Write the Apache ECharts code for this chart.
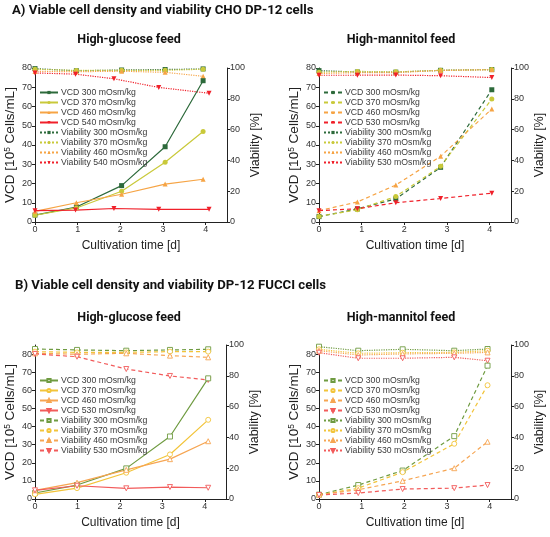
<!DOCTYPE html>
<html><head><meta charset="utf-8">
<script src="https://cdn.jsdelivr.net/npm/echarts@6/dist/echarts.min.js"></script>
<style>html,body{margin:0;padding:0;background:#fff}#c{width:550px;height:537px}</style>
</head><body><div id="c"></div>
<script>
// ---------- DATA ----------
const osmA_glc = ['300', '370', '460', '540'];
const osmA_man = ['300', '370', '460', '530'];
const osmB = ['300', '370', '460', '530'];

// A) CHO DP-12, high-glucose feed
const A_glc_days = [
  [0, 0.97, 2.03, 3.05, 3.94],
  [0, 0.97, 2.03, 3.05, 3.94],
  [0, 0.97, 2.03, 3.05, 3.94],
  [0, 0.95, 1.85, 2.9, 4.08]
];
const A_glc_vcd = [
  [3.6, 7.8, 18.9, 39.1, 73.4],
  [3.5, 7.3, 16.0, 31.0, 47.0],
  [5.5, 10.0, 14.4, 19.7, 22.2],
  [5.9, 6.2, 7.0, 6.6, 6.6]
];
const A_glc_via = [
  [99.6, 98.2, 98.7, 99.0, 99.4],
  [99.2, 98.4, 98.5, 98.5, 99.2],
  [97.8, 97.6, 97.9, 97.2, 94.6],
  [96.8, 96.0, 93.0, 87.4, 83.6]
];

// A) CHO DP-12, high-mannitol feed
const A_man_days = [
  [0, 0.9, 1.8, 2.85, 4.05],
  [0, 0.9, 1.8, 2.85, 4.05],
  [0, 0.9, 1.8, 2.85, 4.05],
  [0, 0.9, 1.8, 2.85, 4.05]
];
const A_man_vcd = [
  [2.8, 6.8, 12.0, 28.4, 68.7],
  [2.9, 6.4, 13.2, 28.9, 63.9],
  [5.9, 10.4, 19.2, 34.1, 58.7],
  [5.9, 6.9, 10.0, 12.2, 15.0]
];
const A_man_via = [
  [98.3, 97.4, 97.3, 98.5, 99.0],
  [97.3, 97.8, 97.5, 98.5, 99.0],
  [96.4, 97.0, 97.0, 98.4, 98.9],
  [95.3, 95.3, 95.4, 95.0, 93.8]
];

// B) DP-12 FUCCI, high-glucose feed
const B_glc_days = [
  [0, 0.99, 2.15, 3.18, 4.08],
  [0, 0.99, 2.15, 3.18, 4.08],
  [0, 0.99, 2.15, 3.18, 4.08],
  [0, 0.99, 2.15, 3.18, 4.08]
];
const B_glc_vcd = [
  [3.3, 7.7, 16.9, 34.5, 66.6],
  [2.6, 6.0, 14.5, 24.6, 43.7],
  [4.8, 9.0, 16.1, 22.0, 31.9],
  [4.8, 7.3, 5.9, 6.6, 6.2]
];
const B_glc_via = [
  [97.4, 96.8, 96.3, 96.8, 97.2],
  [95.7, 95.2, 95.2, 95.7, 95.7],
  [94.6, 94.0, 94.6, 93.1, 92.0],
  [94.2, 92.4, 84.4, 79.9, 77.3]
];

// B) DP-12 FUCCI, high-mannitol feed
const B_man_days = [
  [0, 0.92, 1.96, 3.17, 3.95],
  [0, 0.92, 1.96, 3.17, 3.95],
  [0, 0.92, 1.96, 3.17, 3.95],
  [0, 0.92, 1.96, 3.17, 3.95]
];
const B_man_vcd = [
  [2.4, 7.7, 15.7, 34.7, 73.6],
  [2.2, 6.0, 14.8, 30.5, 62.8],
  [2.4, 5.1, 10.0, 17.0, 31.6],
  [2.2, 3.3, 5.5, 6.0, 7.7]
];
const B_man_via = [
  [98.9, 96.3, 97.2, 96.3, 97.4],
  [97.2, 94.6, 95.0, 95.2, 96.3],
  [96.3, 93.5, 94.2, 94.6, 95.2],
  [95.0, 91.4, 91.4, 92.0, 89.8]
];

// ---------- STYLE ----------
const colA = ['#2d6a3b', '#c9c93a', '#f6a445', '#f0202a'];
const colB = ['#6f9b41', '#f2c43a', '#f6a552', '#f25b5b'];
const symbols = ['rect', 'circle', 'triangle', 'triangle'];
const rots = [0, 0, 0, 180];
const FONT = 'Liberation Sans';

const panels = [
  {left: 35, top: 68, width: 192, height: 154, vmax: 80, vcdType: 'solid', viaType: 'dotted', open: false,
   col: colA, osm: osmA_glc, days: A_glc_days, vcd: A_glc_vcd, via: A_glc_via, lg: {left: 39, top: 88}},
  {left: 319, top: 68, width: 192, height: 154, vmax: 80, vcdType: [4, 3], viaType: 'dotted', open: false,
   col: colA, osm: osmA_man, days: A_man_days, vcd: A_man_vcd, via: A_man_via, lg: {left: 323, top: 88}},
  {left: 35, top: 345, width: 191, height: 154, vmax: 85, vcdType: 'solid', viaType: [4, 3], open: true,
   col: colB, osm: osmB, days: B_glc_days, vcd: B_glc_vcd, via: B_glc_via, lg: {left: 39, top: 376}},
  {left: 319, top: 345, width: 192, height: 154, vmax: 85, vcdType: [4, 3], viaType: 'dotted', open: true,
   col: colB, osm: osmB, days: B_man_days, vcd: B_man_vcd, via: B_man_via, lg: {left: 323, top: 376}}
];

const grids = [], xAxes = [], yAxes = [], series = [], legends = [];
const axisCommon = {
  axisLine: {show: true, lineStyle: {color: '#222', width: 1}},
  axisTick: {show: true, inside: false, length: 3, lineStyle: {color: '#222'}},
  axisLabel: {fontFamily: FONT, fontSize: 9, color: '#333', margin: 3, showMaxLabel: false},
  splitLine: {show: false}
};

panels.forEach((p, i) => {
  const tag = '\u200b'.repeat(i);
  grids.push({left: p.left, top: p.top, width: p.width, height: p.height});
  xAxes.push(Object.assign({}, axisCommon, {
    gridIndex: i, type: 'value', min: 0, max: 4.5, interval: 1,
    name: 'Cultivation time [d]', nameLocation: 'middle', nameGap: 18,
    nameTextStyle: {fontFamily: FONT, fontSize: 12, color: '#222'}
  }));
  yAxes.push(Object.assign({}, axisCommon, {
    gridIndex: i, type: 'value', position: 'left', min: 0, max: p.vmax, interval: 10,
    axisLabel: Object.assign({}, axisCommon.axisLabel, {showMaxLabel: p.vmax % 10 === 0}),
    name: '{a|VCD [10}{s|5}{a| Cells/mL]}', nameLocation: 'middle', nameGap: 17,
    nameTextStyle: {fontFamily: FONT, fontSize: 13.5, color: '#222',
      rich: {a: {fontFamily: FONT, fontSize: 13.5, color: '#222'},
             s: {fontFamily: FONT, fontSize: 8.5, color: '#222', verticalAlign: 'top', padding: [0, 0, 6, 0]}}}
  }));
  yAxes.push(Object.assign({}, axisCommon, {
    gridIndex: i, type: 'value', position: 'right', min: 0, max: 100, interval: 20,
    name: 'Viability [%]', nameLocation: 'middle', nameGap: 21,
    nameTextStyle: {fontFamily: FONT, fontSize: 12.5, color: '#222'},
    axisLabel: Object.assign({}, axisCommon.axisLabel, {showMaxLabel: true})
  }));
  const names = [];
  p.osm.forEach((o, k) => {
    const c = p.col[k];
    const item = p.open ? {color: '#fff', borderColor: c, borderWidth: 0.9} : {color: c};
    const nm = 'VCD ' + o + ' mOsm/kg' + tag;
    names.push(nm);
    series.push({
      name: nm, type: 'line', xAxisIndex: i, yAxisIndex: 2 * i,
      data: p.days[k].map((d, j) => [d, p.vcd[k][j]]),
      symbol: symbols[k], symbolRotate: rots[k], symbolSize: 5, showSymbol: true,
      lineStyle: {color: c, width: 1.2, type: p.vcdType}, itemStyle: item, z: 3
    });
  });
  p.osm.forEach((o, k) => {
    const c = p.col[k];
    const item = p.open ? {color: '#fff', borderColor: c, borderWidth: 0.9} : {color: c};
    const nm = 'Viability ' + o + ' mOsm/kg' + tag;
    names.push(nm);
    series.push({
      name: nm, type: 'line', xAxisIndex: i, yAxisIndex: 2 * i + 1,
      data: p.days[k].map((d, j) => [d, p.via[k][j]]),
      symbol: symbols[k], symbolRotate: rots[k], symbolSize: 5, showSymbol: true,
      lineStyle: {color: c, width: 1.2, type: p.viaType}, itemStyle: item, z: 2
    });
  });
  legends.push({
    data: names, orient: 'vertical', left: p.lg.left, top: p.lg.top,
    itemWidth: 18, itemHeight: 4, itemGap: 1, padding: 0,
    selectedMode: false,
    formatter: n => n.replace(/\u200b/g, ''),
    textStyle: {fontFamily: FONT, fontSize: 8.7, color: '#3a3a3a', lineHeight: 8.5, padding: [0, 0, 0, -2]}
  });
});

const titles = [
  {text: 'A) Viable cell density and viability CHO DP-12 cells', left: 12, top: 4},
  {text: 'B) Viable cell density and viability DP-12 FUCCI cells', left: 15, top: 279},
  {text: 'High-glucose feed', left: 129, top: 33, textAlign: 'center', sub: true},
  {text: 'High-mannitol feed', left: 401, top: 33, textAlign: 'center', sub: true},
  {text: 'High-glucose feed', left: 129, top: 311, textAlign: 'center', sub: true},
  {text: 'High-mannitol feed', left: 401, top: 311, textAlign: 'center', sub: true}
].map(t => ({
  text: t.text, left: t.left, top: t.top, textAlign: t.textAlign || 'left', padding: 0,
  textStyle: {fontFamily: 'Roboto', fontWeight: 'bold', fontSize: t.sub ? 12.5 : 13.2, color: '#111'}
}));

const chart = echarts.init(document.getElementById('c'), null, {renderer: 'canvas'});
chart.setOption({
  backgroundColor: '#fff',
  animation: false,
  title: titles,
  grid: grids,
  xAxis: xAxes,
  yAxis: yAxes,
  legend: legends,
  series: series
});
</script></body></html>
